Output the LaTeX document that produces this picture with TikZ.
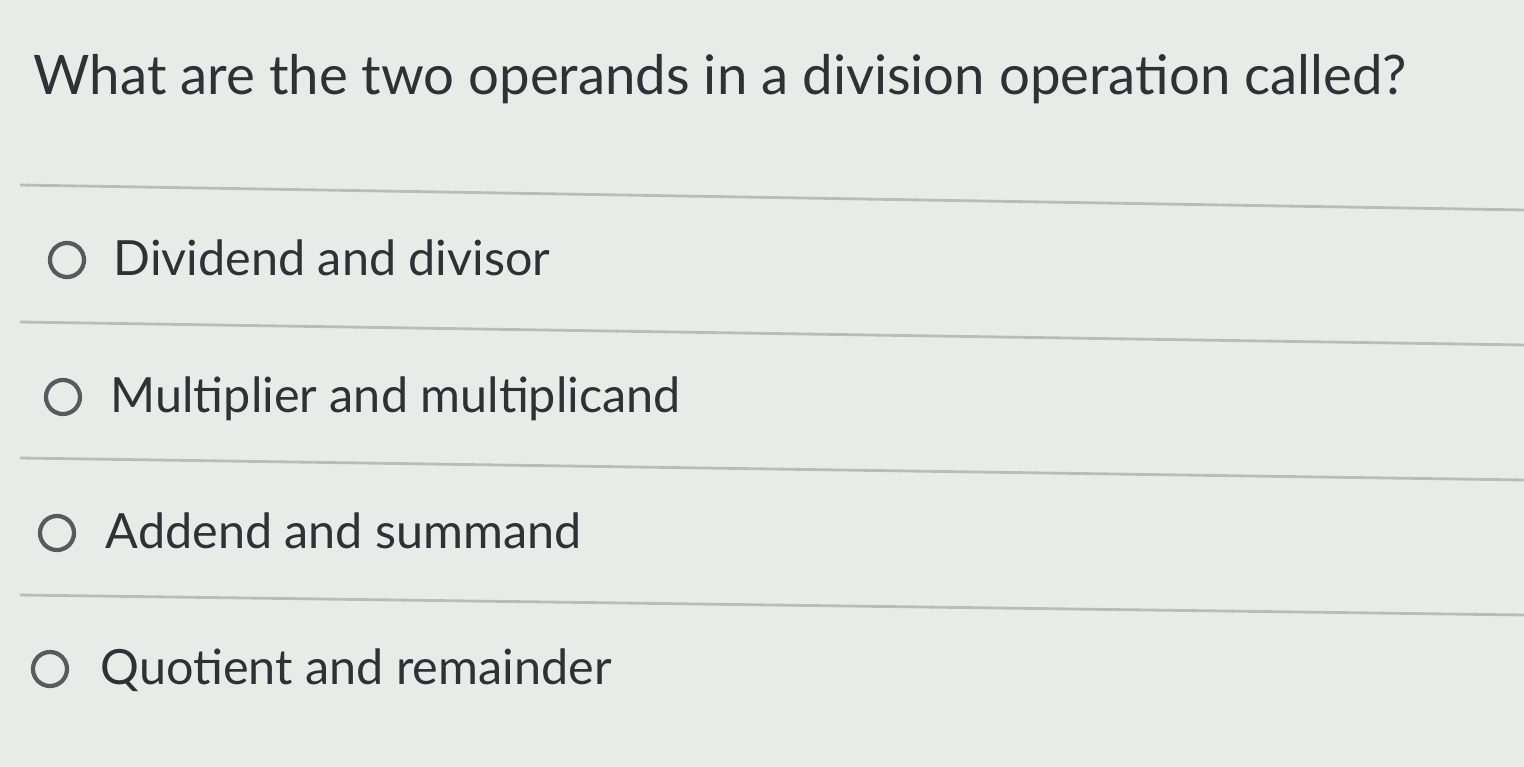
\documentclass[tikz,border=0pt]{standalone}
\usepackage{fontspec}
\setmainfont{Lato}
\definecolor{bgcol}{HTML}{E8EBE7}
\definecolor{txtcol}{HTML}{2E3236}
\definecolor{rulecol}{HTML}{B9BDBA}
\tikzset{
  question/.style={anchor=base west, text=txtcol, font=\fontsize{15.5}{19}\selectfont, inner sep=0pt},
  answer/.style={anchor=base west, text=txtcol, font=\fontsize{13.8}{17}\selectfont, inner sep=0pt},
  radio/.style={circle, draw=txtcol!80, line width=1.2pt, minimum size=0.34cm, inner sep=0pt},
  sepline/.style={draw=rulecol, line width=0.8pt}
}
\begin{document}
\begin{tikzpicture}[x=0.01cm,y=-0.01cm]
\fill[bgcol] (0,0) rectangle (1524,767);
\useasboundingbox (0,0) rectangle (1524,767);

\node[question] (q) at (33,95) {What are the two operands in a division operation called?};

% separators
\foreach \ya/\yb [count=\k] in {185/210,322/345,458/480,595/615}
  \draw[sepline] (20,\ya) coordinate (s\k) -- (1524,\yb) coordinate (e\k);

% answers
\foreach \cx/\cy/\tx/\txt [count=\k] in {
    67/260/113/Dividend and divisor,
    63/397/110/Multiplier and multiplicand,
    57/533/105/Addend and summand,
    50/669/100/Quotient and remainder}
{
  \node[radio] (r\k) at (\cx,\cy) {};
  \node[answer] (a\k) at (\tx,\cy+15) {\txt};
}
\end{tikzpicture}
\end{document}
